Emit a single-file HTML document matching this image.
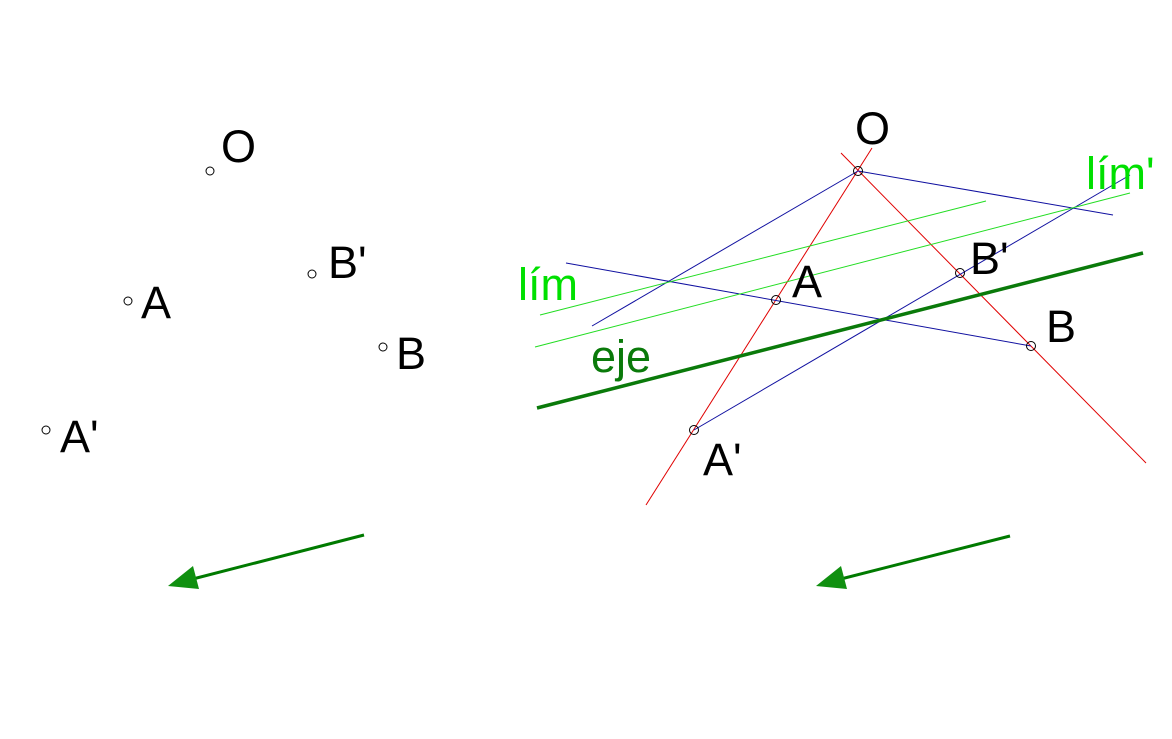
<!DOCTYPE html>
<html><head><meta charset="utf-8"><style>
html,body{margin:0;padding:0;background:#fff;}
svg{display:block;}
text{font-family:"Liberation Sans",Arial,sans-serif;font-size:45px;}
</style></head><body>
<svg width="1172" height="739" viewBox="0 0 1172 739" xmlns="http://www.w3.org/2000/svg">
<rect width="1172" height="739" fill="#fff"/>
<!-- left figure -->
<g fill="none" stroke="#000" stroke-width="1">
<circle cx="210" cy="171" r="4"/>
<circle cx="128" cy="301" r="4"/>
<circle cx="312" cy="274" r="4"/>
<circle cx="383" cy="347" r="4"/>
<circle cx="46" cy="430" r="4"/>
</g>
<text x="221" y="162">O</text>
<text x="141" y="318">A</text>
<text x="328" y="278">B'</text>
<text x="396" y="369">B</text>
<text x="60" y="452">A'</text>
<!-- left arrow -->
<line x1="364" y1="535" x2="185" y2="581" stroke="#007a00" stroke-width="3"/>
<polygon points="168,586 193,566 199,589" fill="#109010"/>

<!-- right figure -->
<g stroke="#e00000" stroke-width="1">
<line x1="872" y1="148" x2="646" y2="505"/>
<line x1="841" y1="153" x2="1146" y2="463"/>
</g>
<g stroke="#1010a0" stroke-width="1">
<line x1="858" y1="171" x2="1113" y2="215"/>
<line x1="858" y1="171" x2="592" y2="326"/>
<line x1="566" y1="263" x2="1031" y2="346"/>
<line x1="694" y1="430" x2="1130" y2="175"/>
</g>
<g stroke="#22dd22" stroke-width="1">
<line x1="540" y1="315" x2="986" y2="201"/>
<line x1="535" y1="347" x2="1130" y2="193"/>
</g>
<line x1="537" y1="408" x2="1143" y2="253" stroke="#0a7a0a" stroke-width="3.5"/>
<g fill="none" stroke="#000" stroke-width="1">
<circle cx="858" cy="171" r="4.5"/>
<circle cx="776" cy="300" r="4.5"/>
<circle cx="960" cy="273" r="4.5"/>
<circle cx="1031" cy="346" r="4.5"/>
<circle cx="694" cy="430" r="4.5"/>
</g>
<text x="855" y="144">O</text>
<text x="792" y="297">A</text>
<text x="970" y="274">B'</text>
<text x="1046" y="342">B</text>
<text x="703" y="475">A'</text>
<text x="1086" y="189" fill="#00e000">lím'</text>
<text x="518" y="300" fill="#00e000">lím</text>
<text x="591" y="372" fill="#0a7a0a">eje</text>
<!-- right arrow -->
<line x1="1010" y1="536" x2="833" y2="581" stroke="#007a00" stroke-width="3"/>
<polygon points="816,586 841,566 847,589" fill="#109010"/>
</svg>
</body></html>
